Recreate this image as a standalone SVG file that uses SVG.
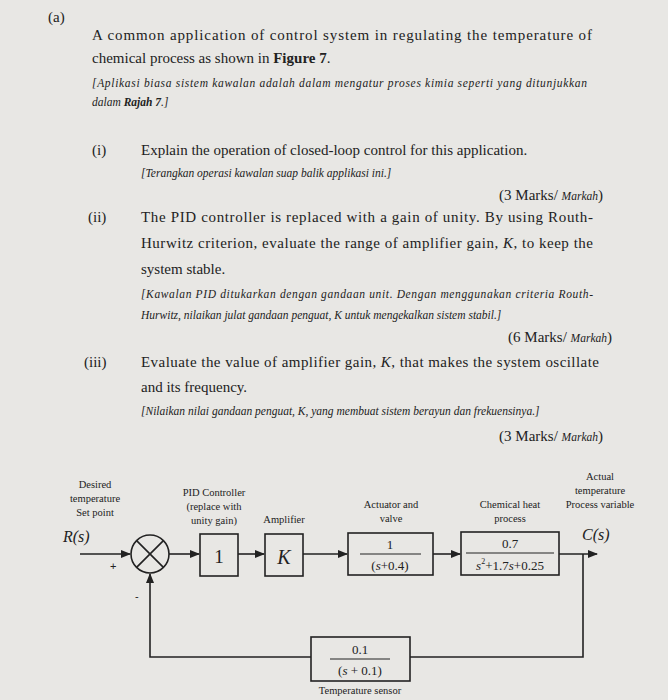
<svg xmlns="http://www.w3.org/2000/svg" width="668" height="700" viewBox="0 0 668 700">
<defs>
<style>
.t{font-family:"Liberation Serif",serif;fill:#222}
.m{font-size:15px}
.i{font-size:11.5px;font-style:italic}
.s{font-size:10.5px;text-anchor:middle}
.b{fill:none;stroke:#222;stroke-width:1.6}
.l{fill:none;stroke:#222;stroke-width:1.6}
</style>
<marker id="a" markerWidth="10" markerHeight="8" refX="9" refY="4" orient="auto" markerUnits="userSpaceOnUse"><path d="M0,0 L10,4 L0,8 Z" fill="#222"/></marker>
</defs>
<rect width="668" height="700" fill="#e8e7e4"/>
<g id="text" class="t">
<text x="48" y="22" class="m">(a)</text>
<text x="92" y="40" class="m" textLength="500">A common application of control system in regulating the temperature of</text>
<text x="92" y="63" class="m">chemical process as shown in <tspan font-weight="bold">Figure 7</tspan>.</text>
<text x="92" y="87" class="i" textLength="495">[Aplikasi biasa sistem kawalan adalah dalam mengatur proses kimia seperti yang ditunjukkan</text>
<text x="92" y="106" class="i">dalam <tspan font-weight="bold">Rajah 7</tspan>.]</text>
<text x="92" y="155" class="m">(i)</text>
<text x="141" y="155" class="m">Explain the operation of closed-loop control for this application.</text>
<text x="141" y="177" class="i">[Terangkan operasi kawalan suap balik applikasi ini.]</text>
<text x="603" y="200" class="m" text-anchor="end">(3 Marks/ <tspan class="i">Markah</tspan>)</text>
<text x="88" y="222" class="m">(ii)</text>
<text x="141" y="222" class="m" textLength="452">The PID controller is replaced with a gain of unity. By using Routh-</text>
<text x="141" y="248" class="m" textLength="452">Hurwitz criterion, evaluate the range of amplifier gain, <tspan font-style="italic">K</tspan>, to keep the</text>
<text x="141" y="274" class="m">system stable.</text>
<text x="141" y="298" class="i" textLength="452">[Kawalan PID ditukarkan dengan gandaan unit. Dengan menggunakan criteria Routh-</text>
<text x="141" y="319" class="i">Hurwitz, nilaikan julat gandaan penguat, K untuk mengekalkan sistem stabil.]</text>
<text x="612" y="342" class="m" text-anchor="end">(6 Marks/ <tspan class="i">Markah</tspan>)</text>
<text x="84" y="367" class="m">(iii)</text>
<text x="141" y="367" class="m" textLength="458">Evaluate the value of amplifier gain, <tspan font-style="italic">K</tspan>, that makes the system oscillate</text>
<text x="141" y="392" class="m">and its frequency.</text>
<text x="141" y="415" class="i">[Nilaikan nilai gandaan penguat, K, yang membuat sistem berayun dan frekuensinya.]</text>
<text x="603" y="441" class="m" text-anchor="end">(3 Marks/ <tspan class="i">Markah</tspan>)</text>
</g>
<g id="labels" class="t">
<text x="95" y="488" class="s">Desired</text>
<text x="95" y="502" class="s">temperature</text>
<text x="95" y="516" class="s">Set point</text>
<text x="214" y="496" class="s">PID Controller</text>
<text x="214" y="510" class="s">(replace with</text>
<text x="214" y="524" class="s">unity gain)</text>
<text x="284" y="523" class="s">Amplifier</text>
<text x="391" y="508" class="s">Actuator and</text>
<text x="391" y="522" class="s">valve</text>
<text x="510" y="508" class="s">Chemical heat</text>
<text x="510" y="522" class="s">process</text>
<text x="600" y="480" class="s">Actual</text>
<text x="600" y="494" class="s">temperature</text>
<text x="600" y="508" class="s">Process variable</text>
<text x="63" y="542" font-size="16" font-style="italic" font-family="Liberation Serif,serif">R(s)</text>
<text x="582" y="540" font-size="16" font-style="italic" font-family="Liberation Serif,serif">C(s)</text>
<text x="110" y="570" font-size="11" font-family="Liberation Sans,sans-serif">+</text>
<text x="135" y="600" font-size="11" font-family="Liberation Sans,sans-serif">-</text>
</g>
<g id="sum"><circle cx="150" cy="554" r="19" class="b"/><path d="M136.6,540.6 L163.4,567.4 M163.4,540.6 L136.6,567.4" class="l"/></g>
<g id="pid"><rect x="200" y="534" width="38" height="42" class="b"/><text x="219" y="563" font-size="19" text-anchor="middle" class="t">1</text></g>
<g id="amp"><rect x="265" y="534" width="38" height="42" class="b"/><text x="284" y="564" font-size="20" font-style="italic" text-anchor="middle" class="t">K</text></g>
<g id="act"><rect x="348" y="533" width="85" height="42" class="b"/><text x="390" y="549" font-size="13" text-anchor="middle" class="t">1</text><line x1="360" y1="554" x2="421" y2="554" stroke="#222"/><text x="390" y="570" font-size="13" text-anchor="middle" class="t">(<tspan font-style="italic">s</tspan>+0.4)</text></g>
<g id="proc"><rect x="461" y="532" width="98" height="43" class="b"/><text x="510" y="548" font-size="13" text-anchor="middle" class="t">0.7</text><line x1="466" y1="553" x2="554" y2="553" stroke="#222"/><text x="510" y="570" font-size="13" text-anchor="middle" class="t"><tspan font-style="italic">s</tspan><tspan font-size="8" dy="-6">2</tspan><tspan dy="6">+1.7</tspan><tspan font-style="italic">s</tspan>+0.25</text></g>
<g id="sensor"><rect x="311" y="637" width="99" height="44" class="b"/><text x="360" y="654" font-size="13" text-anchor="middle" class="t">0.1</text><line x1="330" y1="659" x2="390" y2="659" stroke="#222"/><text x="360" y="675" font-size="13" text-anchor="middle" class="t">(<tspan font-style="italic">s</tspan> + 0.1)</text><text x="360" y="694" class="t s">Temperature sensor</text></g>
<g id="connectors">
<path d="M80,554 H130" class="l" marker-end="url(#a)"/>
<path d="M169,554 H199" class="l" marker-end="url(#a)"/>
<path d="M238,554 H264" class="l" marker-end="url(#a)"/>
<path d="M303,554 H347" class="l" marker-end="url(#a)"/>
<path d="M433,554 H460" class="l" marker-end="url(#a)"/>
<path d="M559,554 H597" class="l" marker-end="url(#a)"/>
<path d="M583,554 V657 H410" class="l"/>
<path d="M311,657 H150 V574" class="l" marker-end="url(#a)"/>
</g>
</svg>
